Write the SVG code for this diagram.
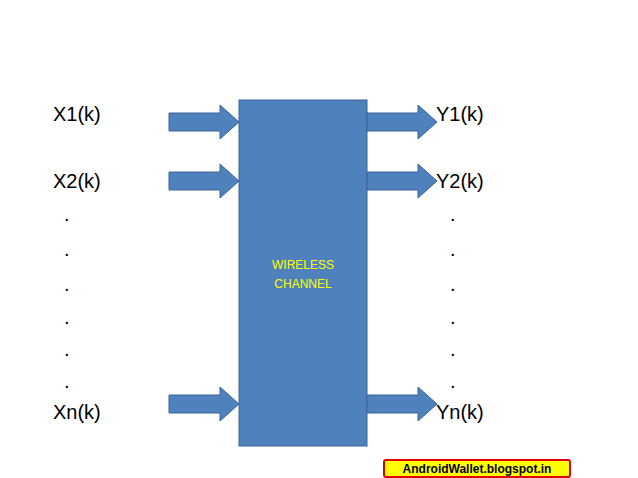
<svg xmlns="http://www.w3.org/2000/svg" width="638" height="478" viewBox="0 0 638 478">
<style>
.t{font-family:"Liberation Sans",Arial,sans-serif;font-size:20px;fill:#000}
.a{fill:#4f81bd;stroke:#3a6595;stroke-width:1}
.w{font-family:"Liberation Sans",Arial,sans-serif;font-size:12px;fill:#ffff00;text-anchor:middle}
</style>
<defs><path id="arr" d="M0,-9 H51 V-17 L70,0 L51,17 V9 H0 Z"/></defs>
<rect width="638" height="478" fill="#fff"/>
<g id="labels">
<text class="t" x="53" y="121">X1(k)</text>
<text class="t" x="53" y="188">X2(k)</text>
<text class="t" x="53" y="419">Xn(k)</text>
<text class="t" x="436" y="121">Y1(k)</text>
<text class="t" x="436" y="188">Y2(k)</text>
<text class="t" x="436" y="419">Yn(k)</text>
<g class="t"><text x="64" y="221">.</text><text x="64" y="256">.</text><text x="64" y="291">.</text><text x="64" y="324">.</text><text x="64" y="356">.</text><text x="64" y="388">.</text>
<text x="450" y="221">.</text><text x="450" y="256">.</text><text x="450" y="291">.</text><text x="450" y="324">.</text><text x="450" y="356">.</text><text x="450" y="388">.</text></g>
</g>
<g id="channel">
<rect x="239" y="100" width="128" height="346" fill="#4f81bd" stroke="#3a6595"/>
<text class="w" x="303" y="269">WIRELESS</text>
<text class="w" x="303" y="288">CHANNEL</text>
</g>
<g id="connectors">
<use href="#arr" class="a" x="169" y="122"/>
<use href="#arr" class="a" x="169" y="181"/>
<use href="#arr" class="a" x="169" y="404"/>
<use href="#arr" class="a" x="367" y="122"/>
<use href="#arr" class="a" x="367" y="181"/>
<use href="#arr" class="a" x="367" y="404"/>
</g>
<g id="watermark">
<rect x="384" y="460" width="186" height="17" rx="2" fill="#ffff00" stroke="#e00000" stroke-width="2"/>
<text x="477" y="473" text-anchor="middle" font-family="Liberation Sans,Arial,sans-serif" font-size="12" font-weight="bold">AndroidWallet.blogspot.in</text>
</g>
</svg>
